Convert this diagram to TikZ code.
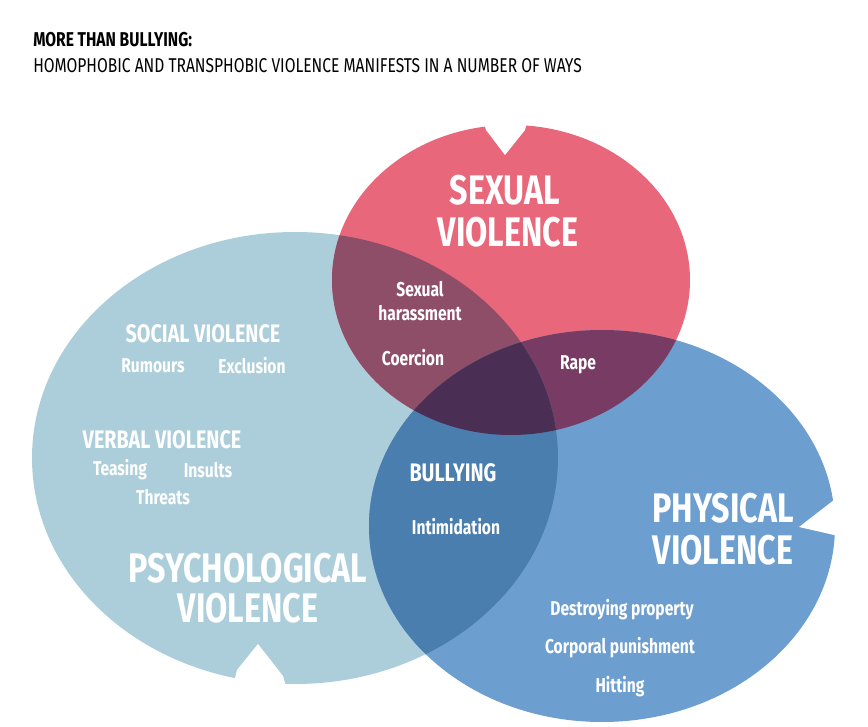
\documentclass[tikz,border=0pt]{standalone}
\usepackage{fontspec}
\setmainfont{Fira Sans}[FakeStretch=0.78]
\begin{document}
\begin{tikzpicture}[x=0.75pt,y=-0.75pt,
  t/.style={text=white,font=\bfseries,align=center,inner sep=0pt},
  big/.style={t,font=\fontsize{31}{34}\selectfont\bfseries},
  mid/.style={t,font=\fontsize{19}{21}\selectfont\bfseries},
  sm/.style={t,font=\fontsize{15}{18}\selectfont\bfseries}]
\useasboundingbox (0,0) rectangle (868,727);
\fill[white] (0,0) rectangle (868,727);
\def\Ps{(295,458) ellipse [x radius=263,y radius=226]}
\def\Se{(511,280) ellipse [x radius=179,y radius=155]}
\def\Ph{(602,526) ellipse [x radius=233,y radius=196]}
\fill[fill={rgb,255:red,171;green,206;blue,218}] \Ps;
\fill[fill={rgb,255:red,232;green,103;blue,122}] \Se;
\fill[fill={rgb,255:red,108;green,158;blue,208}] \Ph;
\begin{scope}\clip \Ps; \fill[fill={rgb,255:red,142;green,78;blue,103}] \Se; \end{scope}
\begin{scope}\clip \Se; \fill[fill={rgb,255:red,120;green,60;blue,100}] \Ph; \end{scope}
\begin{scope}\clip \Ps; \fill[fill={rgb,255:red,74;green,126;blue,175}] \Ph; \end{scope}
\begin{scope}\clip \Ps; \clip \Se; \fill[fill={rgb,255:red,74;green,46;blue,84}] \Ph; \end{scope}
\fill[white] (480,110) -- (486,130) -- (505,155) -- (525,130) -- (530,110) -- cycle;
\fill[white] (232,690) -- (237,670) -- (258,644) -- (283,676) -- (290,700) -- cycle;
\fill[white] (850,495) -- (834,500) -- (799,527) -- (834,535) -- (850,540) -- cycle;
\node[anchor=west,inner sep=0pt,font=\fontsize{15}{17}\selectfont\bfseries] (h1) at (33,40) {MORE THAN BULLYING:};
\node[anchor=west,inner sep=0pt,font=\fontsize{15}{17}\selectfont] (h2) at (33,66) {HOMOPHOBIC AND TRANSPHOBIC VIOLENCE MANIFESTS IN A NUMBER OF WAYS};
\node[big] (s1) at (505,190) {SEXUAL};
\node[big] (s2) at (508,232) {VIOLENCE};
\node[sm] (sh) at (420,301) {Sexual\\harassment};
\node[sm] (co) at (413,358) {Coercion};
\node[sm] (ra) at (578,365) {Rape};
\node[mid] (so) at (203,334) {SOCIAL VIOLENCE};
\node[sm] (ru) at (153,366) {Rumours};
\node[sm] (ex) at (252,366) {Exclusion};
\node[mid] (ve) at (162,440) {VERBAL VIOLENCE};
\node[sm] (te) at (120,470) {Teasing};
\node[sm] (in) at (208,470) {Insults};
\node[sm] (th) at (163,497) {Threats};
\node[big] (p1) at (248,568) {PSYCHOLOGICAL};
\node[big] (p2) at (248,608) {VIOLENCE};
\node[mid] (bu) at (453,473) {BULLYING};
\node[sm] (im) at (456,527) {Intimidation};
\node[big] (f1) at (723,508) {PHYSICAL};
\node[big] (f2) at (723,550) {VIOLENCE};
\node[sm] (dp) at (622,610) {Destroying property};
\node[sm] (cp) at (620,648) {Corporal punishment};
\node[sm] (hi) at (620,687) {Hitting};
\end{tikzpicture}
\end{document}
